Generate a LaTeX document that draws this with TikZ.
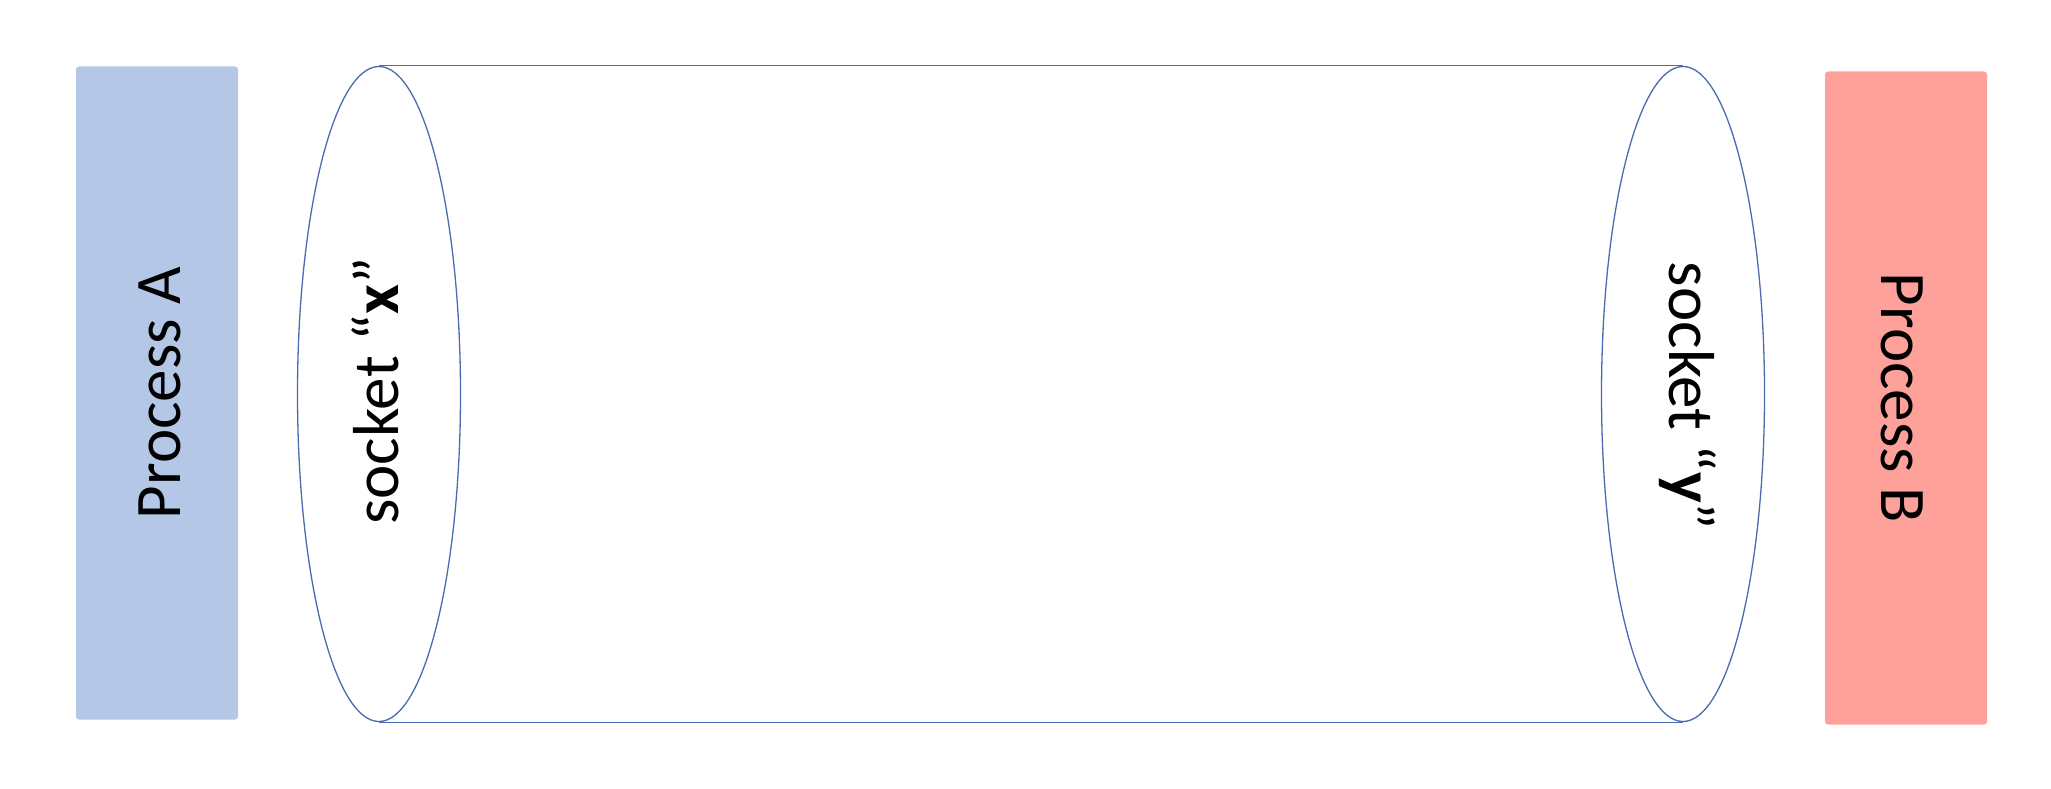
\documentclass[tikz,border=0pt]{standalone}
\usepackage{fontspec}
\setmainfont{Carlito}
\usetikzlibrary{shapes.geometric}
\definecolor{boxblue}{HTML}{B4C7E7}
\definecolor{boxred}{HTML}{FFA19B}
\definecolor{rim}{HTML}{4A6BB0}
\begin{document}
\begin{tikzpicture}[x=1pt,y=-1pt,
  procbox/.style={rectangle,rounded corners=3pt,draw=none,inner sep=0pt,
    minimum width=162pt,minimum height=653pt},
  rimell/.style={ellipse,draw=rim,line width=1.3pt,inner sep=0pt,fill=white,
    minimum width=163pt,minimum height=655pt},
  rimline/.style={draw=rim,line width=1.3pt},
  lbl/.style={font=\fontsize{65}{78}\selectfont,inner sep=0pt,anchor=base}]
\useasboundingbox (0,0) rectangle (2051,789);
\node[procbox,fill=boxblue] (boxA) at (157,393) {};
\node[procbox,fill=boxred] (boxB) at (1906,398) {};
\node[rimell] (sx) at (379,394) {};
\node[rimell] (sy) at (1683,394) {};
\draw[rimline] (sx.north) -- (sy.north);
\draw[rimline] (sx.south) -- (sy.south);
\node[lbl,rotate=90] (labA) at (180,393) {Process A};
\node[lbl,rotate=-90] (labB) at (1881,398) {Process B};
\node[lbl,rotate=90] (labx) at (398,391) {socket “\textbf{x}”};
\node[lbl,rotate=-90] (laby) at (1669,396) {socket “\textbf{y}”};
\end{tikzpicture}
\end{document}
